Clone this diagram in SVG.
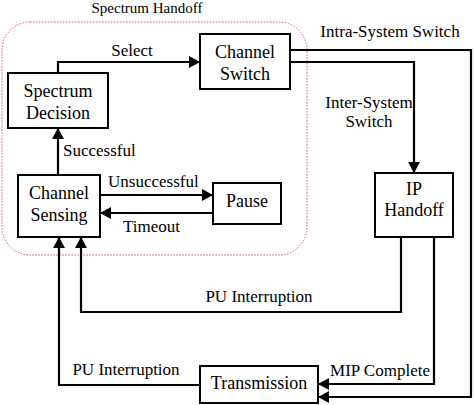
<svg xmlns="http://www.w3.org/2000/svg" width="474" height="405" viewBox="0 0 474 405" font-family="'Liberation Serif', 'DejaVu Serif', Times, serif">
<style>
text{font-family:'Liberation Serif','DejaVu Serif',Times,serif;fill:#000}
.n{font-size:18px;text-anchor:middle}
.l{font-size:17px}
.box{fill:#fff;stroke:#000;stroke-width:2}
.c{fill:none;stroke:#000;stroke-width:2.2}
</style>
<defs>
<marker id="ah" markerUnits="userSpaceOnUse" markerWidth="12" markerHeight="12" refX="11" refY="6" orient="auto">
<path d="M0,0 L11,6 L0,12 z" fill="#000"/>
</marker>
</defs>
<g id="spectrum-handoff">
<rect x="2" y="22" width="305" height="233" rx="28" ry="28" fill="none" stroke="#e0506a" stroke-width="1" stroke-dasharray="1.5,1.5"/>
<text x="147" y="12.5" font-size="15" text-anchor="middle">Spectrum Handoff</text>
</g>
<g id="connectors">
<path class="c" d="M58,73 V62 H200" marker-end="url(#ah)"/>
<path class="c" d="M58,175 V128" marker-end="url(#ah)"/>
<path class="c" d="M100,195 H213" marker-end="url(#ah)"/>
<path class="c" d="M213,213 H100" marker-end="url(#ah)"/>
<path class="c" d="M290,62 H414 V173" marker-end="url(#ah)"/>
<path class="c" d="M290,50 H471 V397 H318" stroke-width="3" marker-end="url(#ah)"/>
<path class="c" d="M434,237 V384 H318" marker-end="url(#ah)"/>
<path class="c" d="M401,237 V312 H81 V237" marker-end="url(#ah)"/>
<path class="c" d="M200,385 H59 V237" marker-end="url(#ah)"/>
<text class="l" x="132" y="56" text-anchor="middle">Select</text>
<text class="l" x="63" y="156">Successful</text>
<text class="l" x="108" y="187">Unsuccessful</text>
<text class="l" x="123" y="232">Timeout</text>
<text class="l" x="390" y="37" text-anchor="middle">Intra-System Switch</text>
<text class="l" x="369" y="108" text-anchor="middle">Inter-System</text>
<text class="l" x="369" y="127" text-anchor="middle">Switch</text>
<text class="l" x="259" y="302" text-anchor="middle">PU Interruption</text>
<text class="l" x="126" y="375" text-anchor="middle">PU Interruption</text>
<text class="l" x="380" y="376" text-anchor="middle">MIP Complete</text>
</g>
<g id="spectrum-decision">
<rect class="box" x="8" y="73" width="100" height="55"/>
<text class="n" x="58" y="97">Spectrum</text>
<text class="n" x="58" y="119">Decision</text>
</g>
<g id="channel-switch">
<rect class="box" x="200" y="34" width="90" height="55"/>
<text class="n" x="245" y="58">Channel</text>
<text class="n" x="245" y="80">Switch</text>
</g>
<g id="channel-sensing">
<rect class="box" x="18" y="175" width="82" height="62"/>
<text class="n" x="59" y="199">Channel</text>
<text class="n" x="59" y="221">Sensing</text>
</g>
<g id="pause">
<rect class="box" x="213" y="183" width="68" height="41"/>
<text class="n" x="247" y="207">Pause</text>
</g>
<g id="ip-handoff">
<rect class="box" x="375" y="173" width="78" height="64"/>
<text class="n" x="414" y="195">IP</text>
<text class="n" x="414" y="216">Handoff</text>
</g>
<g id="transmission">
<rect class="box" x="200" y="366" width="118" height="37"/>
<text class="n" x="259" y="389">Transmission</text>
</g>
</svg>
